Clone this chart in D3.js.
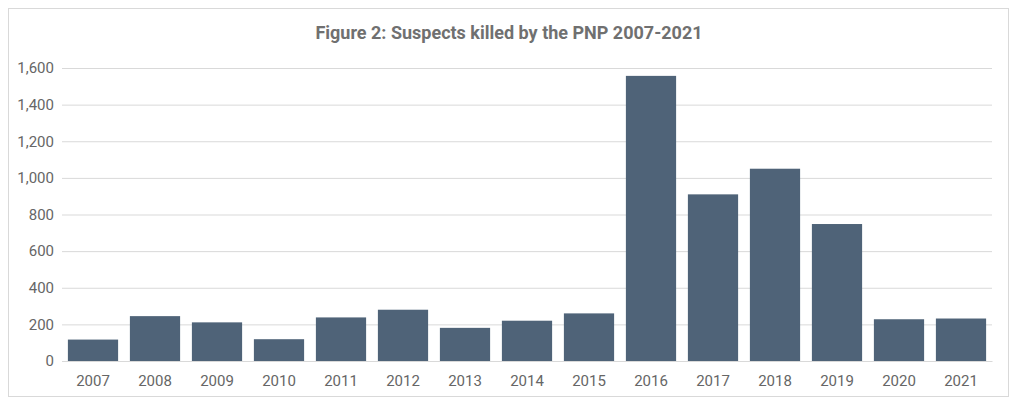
<!DOCTYPE html>
<html><head><meta charset="utf-8">
<script src="https://cdn.jsdelivr.net/npm/d3@7"></script>
<style>body{margin:0;background:#fff;font-family:Roboto,sans-serif}</style>
</head><body>
<script>
const years = ['2007','2008','2009','2010','2011','2012','2013','2014','2015','2016','2017','2018','2019','2020','2021']
const killed = [117, 245, 211, 119, 238, 280, 181, 220, 260, 1557, 910, 1050, 748, 228, 232]
const yTicks = [0, 200, 400, 600, 800, 1000, 1200, 1400, 1600]

const svg = d3.select('body').append('svg').attr('width', 1024).attr('height', 403)
svg.append('rect').attr('x', 8.5).attr('y', 8.5).attr('width', 1000).attr('height', 388)
  .attr('fill', '#fff').attr('stroke', '#d9d9d9')

svg.append('text').attr('x', 509).attr('y', 39).attr('text-anchor', 'middle')
  .attr('font-size', 18).attr('font-weight', 'bold').attr('fill', '#707070')
  .text('Figure 2: Suspects killed by the PNP 2007-2021')

const x = d3.scaleBand().domain(years).range([62, 992]).paddingInner(0.19).paddingOuter(0.095)
const y = d3.scaleLinear().domain([0, 1600]).range([361, 68])

const yAxis = svg.append('g').attr('transform', 'translate(62,0)')
  .call(d3.axisLeft(y).tickValues(yTicks).tickSize(-930).tickPadding(8))
yAxis.select('.domain').remove()
yAxis.selectAll('line').attr('stroke', '#d9d9d9')
yAxis.selectAll('text').attr('font-size', 15).attr('fill', '#666').attr('font-family', 'Roboto')

svg.selectAll('.bar').data(killed).join('rect').attr('class', 'bar')
  .attr('x', (d, i) => x(years[i])).attr('width', x.bandwidth())
  .attr('y', d => y(d)).attr('height', d => y(0) - y(d)).attr('fill', '#4f6378')

const xAxis = svg.append('g').attr('transform', 'translate(0,361)')
  .call(d3.axisBottom(x).tickSize(0).tickPadding(14))
xAxis.select('.domain').attr('stroke', '#d9d9d9')
xAxis.selectAll('text').attr('font-size', 15).attr('fill', '#666').attr('font-family', 'Roboto')
</script>
</body></html>
